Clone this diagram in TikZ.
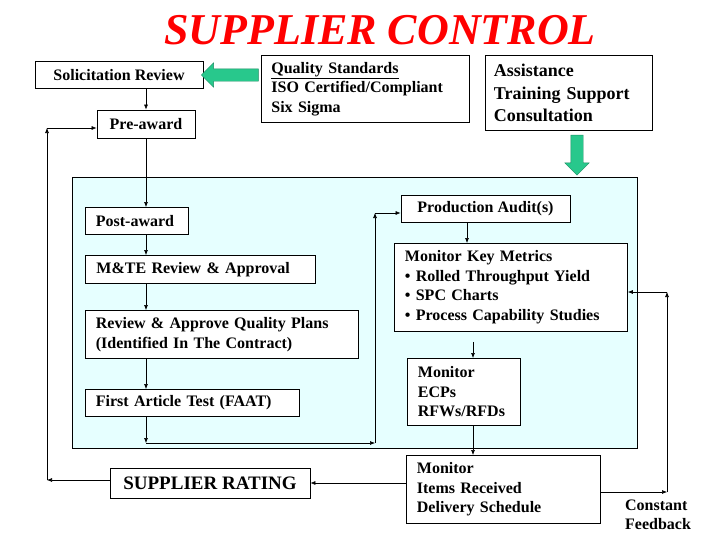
\documentclass[tikz,border=0pt]{standalone}
\usepackage{fontspec}
\setmainfont{Liberation Serif}
\usetikzlibrary{arrows.meta,shapes.arrows}
\definecolor{panel}{RGB}{230,255,255}
\definecolor{fat}{RGB}{40,200,140}
\begin{document}
\begin{tikzpicture}
    [
        x=1pt, y=-1pt,
        box/.style={draw, thick, fill=white, font=\bfseries\fontsize{16}{19.5}\selectfont, align=left, inner sep=0pt, anchor=north west},
        link/.style={-{Latex[length=5pt,width=4pt]}, semithick},
        fatarrow/.style={single arrow, draw=fat!70!black, fill=fat, minimum height=#1, single arrow head extend=6pt, inner sep=6pt}
    ]
    \useasboundingbox (0,0) rectangle (728,546);
    \node[text=red, font=\bfseries\itshape\fontsize{44}{46}\selectfont] (title) at (380,30) {SUPPLIER CONTROL};

    % top row
    \node[box, minimum width=168pt, minimum height=27pt, align=center, anchor=center] (solic) at (119,75) {Solicitation Review};
    \node[box, minimum width=208pt, minimum height=67pt, text width=198pt, anchor=north west] (quality) at (261,55) {\hspace*{5pt}\underline{Quality Standards}\\\hspace*{5pt}ISO Certified/Compliant\\\hspace*{5pt}Six Sigma};
    \node[box, minimum width=167pt, minimum height=75pt, text width=160pt, font=\bfseries\fontsize{18}{22.5}\selectfont] (assist) at (485,55) {\hspace*{5pt}Assistance\\\hspace*{5pt}Training Support\\\hspace*{5pt}Consultation};
    \node[fatarrow=57pt, shape border rotate=180] (leftfat) at (233,75) {};
    \node[fatarrow=40pt, shape border rotate=270] (downfat) at (577,152) {};
    \node[box, minimum width=98pt, minimum height=28pt, align=center, anchor=center] (pre) at (146,124) {Pre-award};

    % panel
    \node[draw, thick, fill=panel, minimum width=565pt, minimum height=271pt, anchor=north west] (panel) at (72,177) {};
    \node[box, minimum width=103pt, minimum height=27pt, text width=96pt] (post) at (85,207) {\hspace*{7pt}Post-award};
    \node[box, minimum width=230pt, minimum height=28pt, text width=222pt] (mte) at (85,255) {\hspace*{7pt}M\&TE Review \& Approval};
    \node[box, minimum width=273pt, minimum height=48pt, text width=266pt] (plans) at (85,310) {\hspace*{7pt}Review \& Approve Quality Plans\\\hspace*{7pt}(Identified In The Contract)};
    \node[box, minimum width=214pt, minimum height=27pt, text width=207pt] (faat) at (85,389) {\hspace*{7pt}First Article Test (FAAT)};
    \node[box, minimum width=169pt, minimum height=27pt, align=center, anchor=center] (audit) at (485.5,208.5) {Production Audit(s)};
    \node[box, minimum width=233pt, minimum height=88pt, text width=226pt] (metrics) at (394,243) {\hspace*{7pt}Monitor Key Metrics\\\hspace*{7pt}• Rolled Throughput Yield\\\hspace*{7pt}• SPC Charts\\\hspace*{7pt}• Process Capability Studies};
    \node[box, minimum width=113pt, minimum height=67pt, text width=106pt] (ecp) at (407,358) {\hspace*{7pt}Monitor\\\hspace*{7pt}ECPs\\\hspace*{7pt}RFWs/RFDs};

    % bottom row
    \node[box, minimum width=194pt, minimum height=68pt, text width=187pt] (items) at (406,455) {\hspace*{7pt}Monitor\\\hspace*{7pt}Items Received\\\hspace*{7pt}Delivery Schedule};
    \node[box, minimum width=200pt, minimum height=30pt, align=center, anchor=center, font=\bfseries\fontsize{19}{20}\selectfont] (rating) at (210,483) {SUPPLIER RATING};
    \node[font=\bfseries\fontsize{16}{19.5}\selectfont, align=left] (feedback) at (658,515) {Constant\\Feedback};

    \coordinate (faatdown) at (146,443);
    \coordinate (joinlow) at (375,443);
    \coordinate (joinhigh) at (375,213);
    \coordinate (leftlow) at (47,480);
    \coordinate (lefthigh) at (47,128);
    \coordinate (rightlow) at (667,492);
    \coordinate (righthigh) at (667,292);

    \draw[link] (solic.south -| pre) -- (pre);
    \draw[link] (pre) -- (pre |- post.north);
    \draw[link] (post.south -| pre) -- (pre |- mte.north);
    \draw[link] (mte.south -| pre) -- (pre |- plans.north);
    \draw[link] (plans.south -| pre) -- (pre |- faat.north);
    \draw[link] (faat.south -| pre) -- (faatdown);
    \draw[link] (faatdown) -- (joinlow);
    \draw[link] (joinlow) -- (joinhigh);
    \draw[link] (joinhigh) -- (audit.west |- joinhigh);
    \draw[link] (audit.south -| 467,0) -- (metrics.north -| 467,0);
    \draw[link] (metrics.south -| 473,0) ++(0,10) -- (ecp.north -| 473,0);
    \draw[link] (ecp.south -| 473,0) -- (items.north -| 473,0);
    \draw[link] (items.west |- rating) -- (rating);
    \draw[link] (rating.west |- leftlow) -- (leftlow);
    \draw[link] (leftlow) -- (lefthigh);
    \draw[link] (lefthigh) -- (pre.west |- lefthigh);
    \draw[link] (items.east |- rightlow) -- (rightlow);
    \draw[link] (rightlow) -- (righthigh);
    \draw[link] (righthigh) -- (metrics.east |- righthigh);
\end{tikzpicture}
\end{document}
